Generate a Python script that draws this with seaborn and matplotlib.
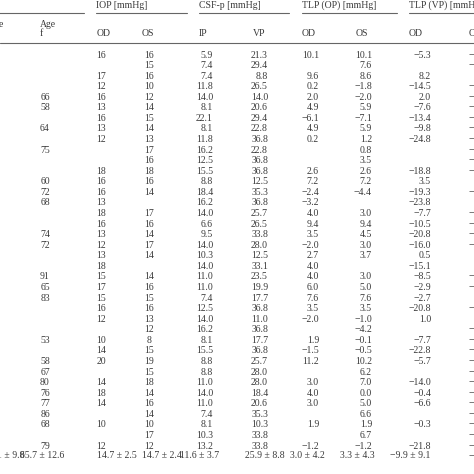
import matplotlib
matplotlib.use("Agg")
import matplotlib.pyplot as plt
import seaborn as sns

sns.set_theme(style="white")
plt.rcParams['font.family'] = ['Liberation Serif', 'DejaVu Serif']

age = ["", "", "", "", "66", "58", "", "64", "", "75", "", "", "60", "72", "68", "", "", "74", "72", "", "", "91", "65", "83", "", "", "", "53", "", "58", "67", "80", "76", "77", "86", "68", "", "79"]
iop_od = ["16", "", "17", "12", "16", "13", "16", "13", "12", "", "", "18", "16", "16", "13", "18", "16", "13", "12", "13", "18", "15", "17", "15", "16", "12", "", "10", "14", "20", "", "14", "18", "14", "", "10", "", "12"]
iop_os = ["16", "15", "16", "10", "12", "14", "15", "14", "13", "17", "16", "18", "16", "14", "", "17", "16", "14", "17", "14", "", "14", "16", "15", "16", "13", "12", "8", "15", "19", "15", "18", "14", "16", "14", "10", "17", "12"]
csf_ip = ["5.9", "7.4", "7.4", "11.8", "14.0", "8.1", "22.1", "8.1", "11.8", "16.2", "12.5", "15.5", "8.8", "18.4", "16.2", "14.0", "6.6", "9.5", "14.0", "10.3", "14.0", "11.0", "11.0", "7.4", "12.5", "14.0", "16.2", "8.1", "15.5", "8.8", "8.8", "11.0", "14.0", "11.0", "7.4", "8.1", "10.3", "13.2"]
csf_vp = ["21.3", "29.4", "8.8", "26.5", "14.0", "20.6", "29.4", "22.8", "36.8", "22.8", "36.8", "36.8", "12.5", "35.3", "36.8", "25.7", "26.5", "33.8", "28.0", "12.5", "33.1", "23.5", "19.9", "17.7", "36.8", "11.0", "36.8", "17.7", "36.8", "25.7", "28.0", "28.0", "18.4", "20.6", "35.3", "10.3", "33.8", "33.8"]
op_od = ["10.1", "", "9.6", "0.2", "2.0", "4.9", "−6.1", "4.9", "0.2", "", "", "2.6", "7.2", "−2.4", "−3.2", "4.0", "9.4", "3.5", "−2.0", "2.7", "4.0", "4.0", "6.0", "7.6", "3.5", "−2.0", "", "1.9", "−1.5", "11.2", "", "3.0", "4.0", "3.0", "", "1.9", "", "−1.2"]
op_os = ["10.1", "7.6", "8.6", "−1.8", "−2.0", "5.9", "−7.1", "5.9", "1.2", "0.8", "3.5", "2.6", "7.2", "−4.4", "", "3.0", "9.4", "4.5", "3.0", "3.7", "", "3.0", "5.0", "7.6", "3.5", "−1.0", "−4.2", "−0.1", "−0.5", "10.2", "6.2", "7.0", "0.0", "5.0", "6.6", "1.9", "6.7", "−1.2"]
vp_od = ["−5.3", "", "8.2", "−14.5", "2.0", "−7.6", "−13.4", "−9.8", "−24.8", "", "", "−18.8", "3.5", "−19.3", "−23.8", "−7.7", "−10.5", "−20.8", "−16.0", "0.5", "−15.1", "−8.5", "−2.9", "−2.7", "−20.8", "1.0", "", "−7.7", "−22.8", "−5.7", "", "−14.0", "−0.4", "−6.6", "", "−0.3", "", "−21.8"]
vp_os = ["−", "−", "", "−", "−", "−", "−", "−", "−", "−", "−", "−", "", "−", "", "−", "−", "−", "−", "", "", "−", "−", "", "−", "", "−", "−", "−", "−", "−", "−", "−", "−", "−", "−", "−", "−"]
summary = ["1 ± 9.8", "65.7 ± 12.6", "14.7 ± 2.5", "14.7 ± 2.4", "11.6 ± 3.7", "25.9 ± 8.8", "3.0 ± 4.2", "3.3 ± 4.3", "−9.9 ± 9.1", "−"]
groups = ["IOP [mmHg]", "CSF-p [mmHg]", "TLP (OP) [mmHg]", "TLP (VP) [mmHg]"]

fig = plt.figure(figsize=(4.74, 4.74), dpi=100)
ax = fig.add_axes([0, 0, 1, 1])
ax.set_xlim(0, 474); ax.set_ylim(474, 0); ax.axis("off")
c = "#3a3a3a"; fs = 7.0

cols = [(45, "center", age), (101, "center", iop_od), (149, "center", iop_os),
        (213, "right", csf_ip), (268, "right", csf_vp), (319, "right", op_od),
        (372, "right", op_os), (431, "right", vp_od), (469, "left", vp_os)]
y0, dy = 55, 10.57
for x, ha, vals in cols:
    for i, v in enumerate(vals):
        ax.text(x, y0 + i * dy, v, ha=ha, va="center", fontsize=fs, color=c)

sx = [-3, 20, 97, 142, 180, 245, 290, 340, 390, 469]
for x, s in zip(sx, summary):
    ax.text(x, 456, s, ha="left", va="center", fontsize=fs, color=c)

gx = [(96, 187), (199, 289), (302, 397), (409, 480)]
for (a, b), g in zip(gx, groups):
    ax.text(a, 5, g, ha="left", va="center", fontsize=fs, color=c)
    ax.plot([a, b], [13, 13], color="#666", lw=0.8)
ax.plot([-5, 84], [13, 13], color="#666", lw=0.8)
ax.text(-1, 24, "e", ha="left", va="center", fontsize=fs, color=c)
ax.text(40, 24, "Age", ha="left", va="center", fontsize=fs, color=c)
ax.text(40, 33, "f", ha="left", va="center", fontsize=fs, color=c)
for x, s in [(97, "OD"), (142, "OS"), (199, "IP"), (253, "VP"), (302, "OD"), (356, "OS"), (409, "OD"), (469, "OS")]:
    ax.text(x, 33, s, ha="left", va="center", fontsize=fs, color=c)
ax.plot([0, 474], [43, 43], color="#666", lw=0.8)

fig.savefig("out.png", dpi=100, facecolor="white")
